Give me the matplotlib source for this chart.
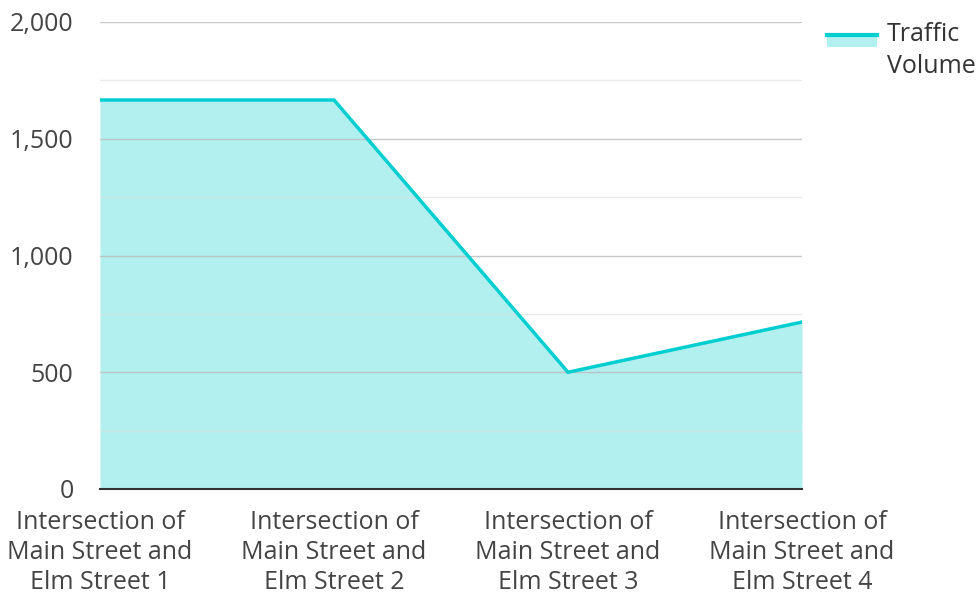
import matplotlib.pyplot as plt
from matplotlib.legend_handler import HandlerBase
from matplotlib.patches import Rectangle
from matplotlib.lines import Line2D

plt.rcParams['font.family'] = ['Open Sans', 'DejaVu Sans']

categories = [
    "Intersection of\nMain Street and\nElm Street 1",
    "Intersection of\nMain Street and\nElm Street 2",
    "Intersection of\nMain Street and\nElm Street 3",
    "Intersection of\nMain Street and\nElm Street 4",
]
traffic_volume = [1666, 1666, 500, 715]
series_name = "Traffic\nVolume"

LINE_COLOR = "#00CED1"
FILL_COLOR = "#B2EFEF"
FS = 18


class AreaHandler(HandlerBase):
    # light patch with the line on its top edge, level with the first text line
    def create_artists(self, legend, orig_handle, xdescent, ydescent,
                       width, height, fontsize, trans):
        y0, y1 = 0.5 * fontsize, 0.98 * fontsize
        rect = Rectangle((-xdescent, y0), width, y1 - y0,
                         facecolor=FILL_COLOR, edgecolor='none', transform=trans)
        line = Line2D([-xdescent, -xdescent + width], [y1, y1],
                      color=LINE_COLOR, lw=3, transform=trans)
        return [rect, line]


fig = plt.figure(figsize=(9.76, 5.94), dpi=100)
ax = fig.add_axes([100 / 976, 105 / 594, 702 / 976, 467 / 594])

x = list(range(len(categories)))
ax.fill_between(x, traffic_volume, 0, color=FILL_COLOR, lw=0, zorder=1)
ax.plot(x, traffic_volume, color=LINE_COLOR, lw=2.5, zorder=3,
        solid_joinstyle='miter')

ax.set_xlim(0, len(categories) - 1)
ax.set_ylim(0, 2000)
ax.set_yticks([0, 500, 1000, 1500, 2000])
ax.set_yticks([250, 750, 1250, 1750], minor=True)
ax.set_yticklabels([f"{v:,}" for v in [0, 500, 1000, 1500, 2000]])
ax.set_xticks(x)
ax.set_xticklabels(categories)

ax.grid(axis='y', which='major', color='#bbbbbb', lw=1, alpha=0.8, zorder=2)
ax.grid(axis='y', which='minor', color='#dddddd', lw=1, alpha=0.6, zorder=2)
ax.set_axisbelow(False)

for s in ['top', 'right', 'left']:
    ax.spines[s].set_visible(False)
ax.spines['bottom'].set_color('#333333')
ax.spines['bottom'].set_linewidth(1.5)
ax.spines['bottom'].set_zorder(4)

ax.tick_params(axis='both', which='both', length=0, labelsize=FS,
               labelcolor='#444444')
ax.tick_params(axis='y', pad=19)
ax.tick_params(axis='x', pad=15)
for lbl in ax.get_xticklabels():
    lbl.set_linespacing(1.28)

handle = Rectangle((0, 0), 1, 1)
leg = fig.legend([handle], [series_name], handler_map={Rectangle: AreaHandler()},
                 loc='upper left', bbox_to_anchor=(827 / 976, 1 - 22 / 594),
                 frameon=False, fontsize=FS, handlelength=2.0,
                 handleheight=0.7, handletextpad=0.4, borderaxespad=0,
                 borderpad=0)
for t in leg.get_texts():
    t.set_color('#333333')
    t.set_linespacing(1.36)

fig.savefig("out.png", dpi=100)
